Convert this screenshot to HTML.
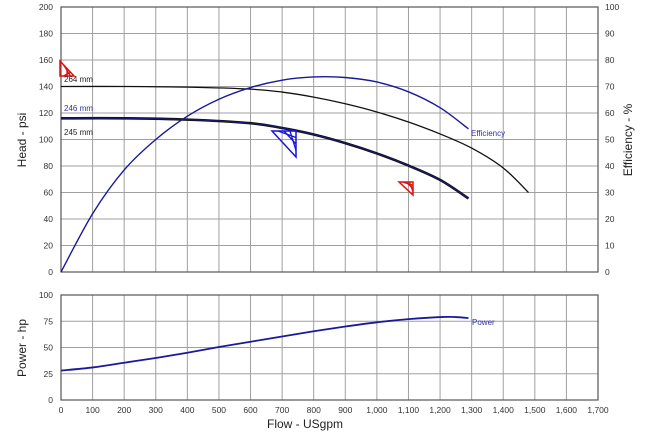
<!DOCTYPE html>
<html><head><meta charset="utf-8"><style>
html,body{margin:0;padding:0;background:#fff;}
svg{display:block;font-family:"Liberation Sans",Arial,sans-serif;}
</style></head><body>
<svg id="chart" width="650" height="435" viewBox="0 0 650 435" xmlns="http://www.w3.org/2000/svg">
<g id="grid"></g><g id="series"></g><g id="labels"></g>
</svg>
<script>
const flowTicks=[0,100,200,300,400,500,600,700,800,900,1000,1100,1200,1300,1400,1500,1600,1700];
const flowTickLabels=["0","100","200","300","400","500","600","700","800","900","1,000","1,100","1,200","1,300","1,400","1,500","1,600","1,700"];
const headTicks=[0,20,40,60,80,100,120,140,160,180,200];
const effTicks=[0,10,20,30,40,50,60,70,80,90,100];
const powerTicks=[0,25,50,75,100];
const flow264=[0,200,400,600,700,800,900,1000,1100,1200,1300,1400,1480];
const head264=[140,140,139.5,138,135.8,132,127,120.8,113.2,104.2,93.5,78.5,60];
const flow245=[0,200,400,600,700,800,900,1000,1100,1200,1290];
const head245=[116,116,115,112.3,108.7,103.8,97.3,89.5,80.3,69.5,55.5];
const flowEff=[0,100,200,300,400,500,600,700,800,900,1000,1100,1200,1290];
const effVals=[0,22,38.5,50,58.8,65.2,69.6,72.4,73.6,73.4,71.7,68,62,54];
const flowPow=[0,100,200,300,400,500,600,700,800,900,1000,1100,1200,1250,1290];
const powVals=[28,31,35.5,40,45,50.5,55.5,60.5,65.5,70,74,77,79,79,78];

const NS="http://www.w3.org/2000/svg";
const X0=61,X1=598,T0=272,T1=7,B0=400,B1=295;
const xs=f=>X0+f/1700*(X1-X0);
const yHead=h=>T0-h/200*(T0-T1);
const yEff=e=>T0-e/100*(T0-T1);
const yPow=p=>B0-p/100*(B0-B1);
function mk(tag,attrs,parent,text){const e=document.createElementNS(NS,tag);for(const k in attrs)e.setAttribute(k,attrs[k]);if(text!==undefined)e.textContent=text;parent.appendChild(e);return e;}
const grid=document.getElementById('grid'),ser=document.getElementById('series'),lab=document.getElementById('labels');

flowTicks.forEach((f,i)=>{
  const l1=mk('line',{x1:xs(f),x2:xs(f),y1:T1,y2:T0,stroke:'#a0a0a0','stroke-width':1},grid);
  
  
  const l2=mk('line',{x1:xs(f),x2:xs(f),y1:B1,y2:B0,stroke:'#a0a0a0','stroke-width':1},grid);
  
  
  const t=mk('text',{x:xs(f),y:413,'font-size':8.5,'text-anchor':'middle',fill:'#333'},lab,flowTickLabels[i]);
  
  
});
headTicks.forEach(h=>{
  const l=mk('line',{x1:X0,x2:X1,y1:yHead(h),y2:yHead(h),stroke:'#a0a0a0','stroke-width':1},grid);
  
  
  const t=mk('text',{x:53,y:yHead(h)+3,'font-size':8.5,'text-anchor':'end',fill:'#333'},lab,String(h));
  
  
});
effTicks.forEach(e=>{
  const t=mk('text',{x:605,y:yEff(e)+3,'font-size':8.5,fill:'#333'},lab,String(e));
  
  
});
powerTicks.forEach(p=>{
  const l=mk('line',{x1:X0,x2:X1,y1:yPow(p),y2:yPow(p),stroke:'#a0a0a0','stroke-width':1},grid);
  
  
  const t=mk('text',{x:53,y:yPow(p)+3,'font-size':8.5,'text-anchor':'end',fill:'#333'},lab,String(p));
  
  
});
const f1=mk('rect',{x:X0,y:T1,width:X1-X0,height:T0-T1,fill:'none',stroke:'#555','stroke-width':1.2},grid);


const f2=mk('rect',{x:X0,y:B1,width:X1-X0,height:B0-B1,fill:'none',stroke:'#555','stroke-width':1.2},grid);



function path(xsArr,ysArr,fx,fy){
  const p=xsArr.map((x,i)=>[fx(x),fy(ysArr[i])]);
  let d='M'+p[0][0]+','+p[0][1];
  for(let i=0;i<p.length-1;i++){
    const p0=p[i-1]||p[i],p1=p[i],p2=p[i+1],p3=p[i+2]||p2;
    const c1=[p1[0]+(p2[0]-p0[0])/6,p1[1]+(p2[1]-p0[1])/6];
    const c2=[p2[0]-(p3[0]-p1[0])/6,p2[1]-(p3[1]-p1[1])/6];
    d+=' C'+c1+' '+c2+' '+p2;
  }
  return d;
}
const c264=mk('path',{d:path(flow264,head264,xs,yHead),fill:'none',stroke:'#111','stroke-width':1.3},ser);


const c245=mk('path',{d:path(flow245,head245,xs,yHead),fill:'none',stroke:'#111','stroke-width':2.6},ser);


const c246=mk('path',{d:path(flow245,head245,xs,yHead),fill:'none',stroke:'#1a1a80','stroke-width':1},ser);


const ce=mk('path',{d:path(flowEff,effVals,xs,yEff),fill:'none',stroke:'#1a1a9a','stroke-width':1.4},ser);


const cp=mk('path',{d:path(flowPow,powVals,xs,yPow),fill:'none',stroke:'#1a1a9a','stroke-width':1.8},ser);



function tri(pts,color,name){
  const g=mk('g',{},ser);
  
  
  mk('polygon',{points:pts.map(p=>p.join(',')).join(' '),fill:'none',stroke:color,'stroke-width':1.5},g);
  const [a,b,c]=pts;
  for(let k=1;k<4;k++){const t=k/4;mk('line',{x1:a[0]+(b[0]-a[0])*t,y1:a[1]+(b[1]-a[1])*t,x2:b[0]+(c[0]-b[0])*t,y2:b[1]+(c[1]-b[1])*t,stroke:color,'stroke-width':1.3},g);}
}
tri([[60,61],[74,76],[60,76]],'#e01010','marker-bep-264');
tri([[272,131],[296,131],[296,157]],'#1515e0','marker-bep-246');
tri([[399,182],[413,182],[413,195]],'#e01010','marker-point-red');

function txt(x,y,s,attrs,name){const t=mk('text',Object.assign({x:x,y:y},attrs),lab,s);return t;}
txt(64,82,'264 mm',{'font-size':8,fill:'#222'},'label-264mm');
txt(64,111,'246 mm',{'font-size':8,fill:'#3030a0'},'label-246mm');
txt(64,135,'245 mm',{'font-size':8,fill:'#222'},'label-245mm');
txt(471,136,'Efficiency',{'font-size':8,fill:'#3030a0'},'label-efficiency');
txt(472,325,'Power',{'font-size':8,fill:'#3030a0'},'label-power');
txt(0,0,'Head - psi',{'font-size':12,'text-anchor':'middle',fill:'#222',transform:'translate(26,140) rotate(-90)'},'y-axis-title-head');
txt(0,0,'Efficiency - %',{'font-size':12,'text-anchor':'middle',fill:'#222',transform:'translate(632,140) rotate(-90)'},'y-axis-title-efficiency');
txt(0,0,'Power - hp',{'font-size':12,'text-anchor':'middle',fill:'#222',transform:'translate(26,348) rotate(-90)'},'y-axis-title-power');
txt(305,428,'Flow - USgpm',{'font-size':12,'text-anchor':'middle',fill:'#222'},'x-axis-title');
</script>
</body></html>
